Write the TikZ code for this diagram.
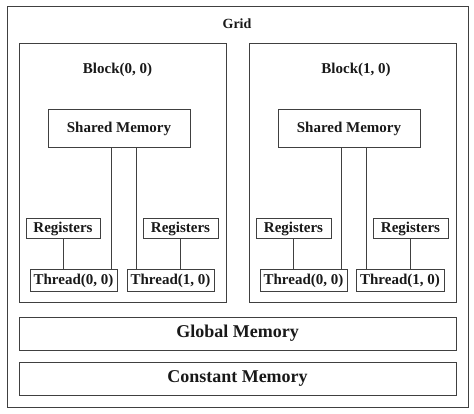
\documentclass[tikz,border=0pt]{standalone}
\usepackage{fontspec}
\setmainfont{Liberation Serif}
\begin{document}
\begin{tikzpicture}[x=1pt,y=-1pt,
  box/.style={draw=black!75, line width=1pt, inner sep=0pt, fill=none},
  lbl/.style={font=\bfseries\fontsize{15}{18}\selectfont, text=black!90},
  big/.style={font=\bfseries\fontsize{18}{21}\selectfont, text=black!90},
  ln/.style={draw=black!75, line width=1pt}]
\useasboundingbox[fill=white] (0,0) rectangle (474,414);
% outer containers
\node[box, minimum width=461pt, minimum height=400pt] (grid) at (237.5,207) {};
\node[lbl, font=\bfseries\fontsize{14}{17}\selectfont] (gridl) at (237,24) {Grid};
\node[box, minimum width=207pt, minimum height=258pt] (b0) at (122.5,173) {};
\node[box, minimum width=207pt, minimum height=258pt] (b1) at (352.5,173) {};
\node[lbl] (b0l) at (117.5,70) {Block(0, 0)};
\node[lbl] (b1l) at (356,70) {Block(1, 0)};
% shared memory
\node[box, lbl, minimum width=142pt, minimum height=38pt] (s0) at (119,129) {Shared Memory};
\node[box, lbl, minimum width=142pt, minimum height=38pt] (s1) at (349,129) {Shared Memory};
% registers
\node[box, lbl, minimum width=74pt, minimum height=20pt] (r00) at (63,229) {Registers};
\node[box, lbl, minimum width=75pt, minimum height=20pt] (r01) at (180.5,229) {Registers};
\node[box, lbl, minimum width=75pt, minimum height=20pt] (r10) at (293.5,229) {Registers};
\node[box, lbl, minimum width=75pt, minimum height=20pt] (r11) at (410.5,229) {Registers};
% threads
\node[box, lbl, minimum width=87pt, minimum height=21pt] (t00) at (73.5,280.5) {Thread(0, 0)};
\node[box, lbl, minimum width=87pt, minimum height=21pt] (t01) at (170.5,280.5) {Thread(1, 0)};
\node[box, lbl, minimum width=87pt, minimum height=21pt] (t10) at (303.5,280.5) {Thread(0, 0)};
\node[box, lbl, minimum width=88pt, minimum height=21pt] (t11) at (400,280.5) {Thread(1, 0)};
% global / constant
\node[box, big, minimum width=437pt, minimum height=33pt] (gm) at (237.5,333.5) {Global Memory};
\node[box, big, minimum width=437pt, minimum height=33pt] (cm) at (237.5,378.5) {Constant Memory};
% connectors
\draw[ln] ([xshift=-8pt]s0.south) -- ([xshift=-8pt]s0.south |- t00.north);
\draw[ln] ([xshift=17pt]s0.south) -- ([xshift=17pt]s0.south |- t01.north);
\draw[ln] ([xshift=-8pt]s1.south) -- ([xshift=-8pt]s1.south |- t10.north);
\draw[ln] ([xshift=17pt]s1.south) -- ([xshift=17pt]s1.south |- t11.north);
\draw[ln] (r00.south) -- (r00.south |- t00.north);
\draw[ln] (r01.south) -- (r01.south |- t01.north);
\draw[ln] (r10.south) -- (r10.south |- t10.north);
\draw[ln] (r11.south) -- (r11.south |- t11.north);
\end{tikzpicture}
\end{document}
